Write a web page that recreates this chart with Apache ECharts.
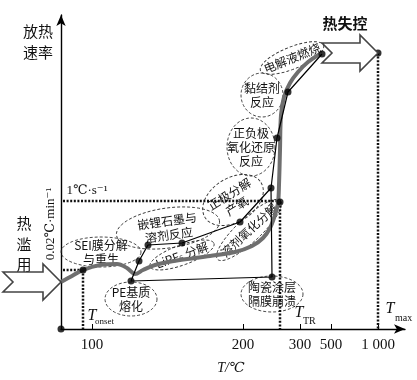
<!DOCTYPE html>
<html><head><meta charset="utf-8">
<script src="https://cdn.jsdelivr.net/npm/echarts@6/dist/echarts.min.js"></script>
<style>html,body{margin:0;padding:0;background:#fff}#c{width:417px;height:380px}</style>
</head><body><div id="c"></div>
<script>
// Schematic axes: x = position along the (non-linear) temperature axis, y = heat-release rate (schematic units)
const tickPos = [31, 182, 239, 270, 317];
const tickLabels = ['100', '200', '300', '500', '1 000'];

// thick grey thermal-runaway curve
const greyCurve = [[0,47],[11,53],[22,59],[39,64],[56,65],[66,61],[74,55],[82,59],[94,64],[119,69],[149,73],[174,77],[191,83],[202,91],[209,101],[214,114],[217,126],[218,144],[219,179],[220,214],[223,232],[229,246],[237,257],[247,267],[259,275]];
// thin black reaction chain
const pathA = [[70,48],[78,68],[87,84],[121,86],[179,107],[210,141],[216,191],[227,237],[261,275]];
// separator shutdown branch
const pathB = [[70,48],[211,52],[210,141]];
// marked points
const keyPoints = [[0,0],[22,59],[70,48],[78,68],[87,84],[121,86],[179,107],[210,141],[219,127],[211,52],[216,191],[227,237],[261,275],[317,276]];
// dotted reference lines (Tonset, 1°C/s level, TTR, Tmax)
const refLines = [
  [[2,128],[220,128]],
  [[2,59],[22,59]],
  [[22,59],[22,0]],
  [[219,127],[219,0]],
  [[317,276],[317,0]]
];
// annotation labels and the points they sit at
const annoTexts = ['SEI膜分解\n与重生','嵌锂石墨与\n溶剂反应','LiPF{s|6} 分解','正极分解\n产氧','溶剂氧化分解','正负极\n氧化还原\n反应','黏结剂\n反应','电解液燃烧','PE基质\n熔化','陶瓷涂层\n隔膜崩溃'];
const annoAt = [[40,77],[107,101],[121,74],[172,129],[188,99],[190,182],[201,234],[231,271],[70,30],[211,35]];
// layout of the dashed ellipses: [rx, ry, rotationDeg]
const annoShape = [[40,15,0],[52,20,8],[34,10,20],[33,22,32],[43,12,43],[24,29,0],[21,22,0],[34,11,22],[26,17,0],[31,18,0]];
// big block arrows (tips)
const arrowTips = [[0,47,0],[317,276,1]];

const CJK = "'Noto Sans CJK SC', sans-serif";
const SERIF = "'Liberation Serif','DejaVu Serif',serif";

function ellipsePts(rx, ry) {
  const pts = [];
  for (let i = 0; i < 64; i++) {
    const t = i / 64 * Math.PI * 2;
    pts.push([rx * Math.cos(t), ry * Math.sin(t)]);
  }
  return pts;
}

const chart = echarts.init(document.getElementById('c'));
const series = [];

refLines.forEach(seg => series.push({
  type: 'line', data: seg, symbol: 'none', silent: true, z: 2,
  lineStyle: {color: '#111', width: 2.5, type: [2, 1.6]}
}));

series.push({
  type: 'custom', z: 1, silent: true,
  data: annoAt.map((p, i) => [p[0], p[1], i]),
  renderItem: function (params, api) {
    const i = api.value(2);
    const c = api.coord([api.value(0), api.value(1)]);
    const s = annoShape[i];
    return {
      type: 'group', x: c[0], y: c[1], rotation: s[2] * Math.PI / 180,
      children: [
        {type: 'polygon', shape: {points: ellipsePts(s[0], s[1])},
          style: {fill: 'rgba(255,255,255,0)', stroke: '#333', lineWidth: 0.9, lineDash: [3, 2]}},
        {type: 'text', style: {
          text: annoTexts[i], x: 0, y: 0, align: 'center', verticalAlign: 'middle',
          fill: '#111', font: '12px ' + CJK, lineHeight: 14,
          rich: {s: {fontSize: 8, fontFamily: SERIF, verticalAlign: 'bottom', fill: '#111'}}
        }}
      ]
    };
  }
});

series.push({
  type: 'line', data: greyCurve, symbol: 'none', smooth: 0.35, z: 3,
  lineStyle: {color: '#6f6f6f', width: 4}
});
series.push({
  type: 'line', data: pathA, symbol: 'none', z: 4,
  lineStyle: {color: '#000', width: 1.2}
});
series.push({
  type: 'line', data: pathB, symbol: 'none', z: 4,
  lineStyle: {color: '#000', width: 1.2}
});
series.push({
  type: 'scatter', data: keyPoints, symbolSize: 7, z: 5,
  itemStyle: {color: '#000'}
});
series.push({
  type: 'custom', z: 6, silent: true,
  data: arrowTips,
  renderItem: function (params, api) {
    const c = api.coord([api.value(0), api.value(1)]);
    const kind = api.value(2);
    const L = kind === 0 ? 58 : 56, head = 18, hh = 18, bh = 10, notch = 10;
    const rel = [[0,0],[-head,-hh],[-head,-bh],[-L,-bh],[-L+notch,0],[-L,bh],[-head,bh],[-head,hh]];
    return {
      type: 'polygon',
      shape: {points: rel.map(p => [c[0] + p[0], c[1] + p[1]])},
      style: {fill: '#fff', stroke: '#444', lineWidth: 1.6}
    };
  }
});

const gtext = (text, x, y, font, extra) => ({
  type: 'text', x: x, y: y,
  style: Object.assign({text: text, font: font, fill: '#111', align: 'center', verticalAlign: 'middle'}, extra || {})
});

chart.setOption({
  animation: false,
  grid: {left: 61, right: 12, top: 15, bottom: 51},
  xAxis: {
    type: 'value', min: 0, max: 344,
    splitLine: {show: false},
    axisLine: {lineStyle: {color: '#000', width: 1.4}, symbol: ['none', 'arrow'], symbolSize: [7, 11]},
    axisTick: {show: true, inside: true, length: 5, customValues: tickPos, lineStyle: {color: '#000'}},
    axisLabel: {customValues: tickPos, margin: 9, color: '#111', fontSize: 15, fontFamily: SERIF,
      formatter: v => tickLabels[tickPos.indexOf(v)]}
  },
  yAxis: {
    type: 'value', min: 0, max: 314,
    splitLine: {show: false},
    axisLine: {show: true, lineStyle: {color: '#000', width: 1.4}, symbol: ['none', 'arrow'], symbolSize: [7, 11]},
    axisTick: {show: false}, axisLabel: {show: false}
  },
  graphic: [
    gtext('放热', 38, 31, '15px ' + CJK),
    gtext('速率', 38, 52, '15px ' + CJK),
    gtext('热失控', 345, 23, 'bold 15px ' + CJK),
    gtext('热', 24, 223, '15px ' + CJK),
    gtext('滥', 24, 244, '15px ' + CJK),
    gtext('用', 24, 264, '15px ' + CJK),
    {type: 'text', x: 51, y: 224, rotation: Math.PI / 2,
      style: {text: '0.02℃·min⁻¹', font: '13px ' + SERIF, fill: '#111', align: 'center', verticalAlign: 'middle'}},
    gtext('1℃·s⁻¹', 87, 191, '13px ' + SERIF),
    gtext('T/℃', 231, 368, 'italic 14px ' + SERIF),
    gtext('T', 92, 316, 'italic 16px ' + SERIF),
    gtext('onset', 95, 322, '9px ' + SERIF, {align: 'left'}),
    gtext('T', 299, 313, 'italic 16px ' + SERIF),
    gtext('TR', 303, 321, '10px ' + SERIF, {align: 'left'}),
    gtext('T', 390, 309, 'italic 16px ' + SERIF),
    gtext('max', 395, 318, '10px ' + SERIF, {align: 'left'})
  ],
  series: series
});
</script></body></html>
